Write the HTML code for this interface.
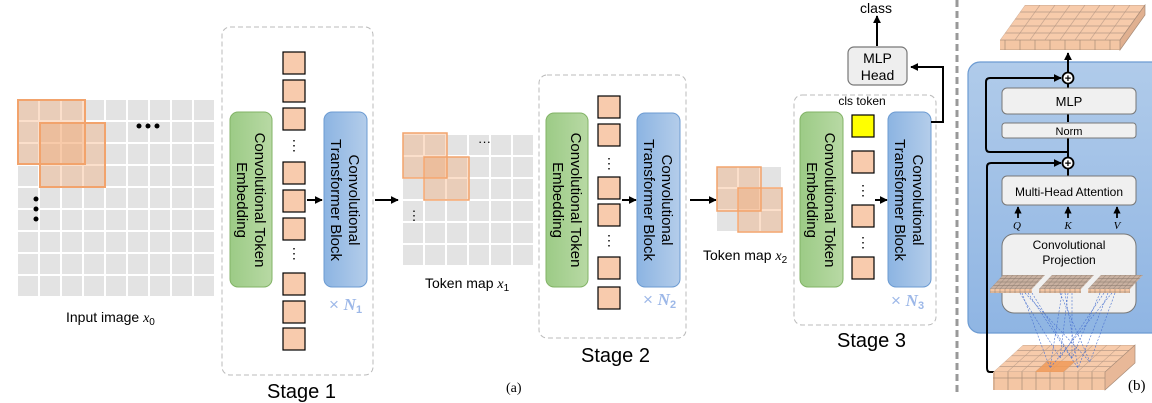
<!DOCTYPE html>
<html><head><meta charset="utf-8"><style>
html,body{margin:0;padding:0;background:#fff;}
svg{display:block;font-family:"Liberation Sans",sans-serif;}
</style></head><body>
<svg width="1152" height="403" viewBox="0 0 1152 403" xmlns="http://www.w3.org/2000/svg">
<defs>
<pattern id="g22" x="18" y="100" width="22" height="22" patternUnits="userSpaceOnUse"><rect width="20" height="20" fill="#e3e3e3"/></pattern>
<pattern id="g22b" x="403" y="135" width="22" height="22" patternUnits="userSpaceOnUse"><rect width="20" height="20" fill="#e3e3e3"/></pattern>
<pattern id="g22c" x="717" y="167" width="22" height="22" patternUnits="userSpaceOnUse"><rect width="20" height="20" fill="#e3e3e3"/></pattern>
<linearGradient id="gr" x1="0" x2="1"><stop offset="0" stop-color="#9ccb86"/><stop offset="1" stop-color="#b8d9a4"/></linearGradient>
<linearGradient id="bl" x1="0" x2="1"><stop offset="0" stop-color="#8cb4e2"/><stop offset="1" stop-color="#b4cdea"/></linearGradient>
<linearGradient id="pan" x1="0" y1="0" x2="0" y2="1"><stop offset="0" stop-color="#b0cbea"/><stop offset="1" stop-color="#8fb5e3"/></linearGradient>
<pattern id="tt" width="15" height="7" patternUnits="userSpaceOnUse"><rect width="15" height="7" fill="#f7cbab" stroke="#b89a86" stroke-width="0.7"/></pattern>
<pattern id="tt2" width="14" height="5.4" patternUnits="userSpaceOnUse"><rect width="14" height="5.4" fill="#f7cbab" stroke="#b89a86" stroke-width="0.7"/></pattern>
<pattern id="tf" width="15" height="10" patternUnits="userSpaceOnUse"><rect width="15" height="10" fill="#f4c6a4" stroke="#a88c78" stroke-width="0.7"/></pattern>
<pattern id="tf2" width="14" height="18" patternUnits="userSpaceOnUse"><rect width="14" height="18" fill="#f4c6a4" stroke="#a88c78" stroke-width="0.7"/></pattern>
<pattern id="st" width="5" height="3.5" patternUnits="userSpaceOnUse"><rect width="5" height="3.5" fill="#c8b0a0" stroke="#8c7c70" stroke-width="0.5"/></pattern>
<pattern id="sf" width="5" height="4" patternUnits="userSpaceOnUse"><rect width="5" height="4" fill="#f4c6a4" stroke="#8c7c70" stroke-width="0.5"/></pattern>
<marker id="ar" viewBox="0 0 10 10" refX="9" refY="5" markerWidth="4" markerHeight="4" orient="auto"><path d="M0,0L10,5L0,10z" fill="#000"/></marker>
</defs>

<!-- Input image -->
<rect x="18" y="100" width="198" height="198" fill="url(#g22)"/>
<rect x="18" y="100" width="67" height="64" fill="#f4a46b" fill-opacity="0.35" stroke="#f2a36c" stroke-width="2"/>
<rect x="40" y="123" width="65" height="64" fill="#f4a46b" fill-opacity="0.35" stroke="#f2a36c" stroke-width="2"/>
<circle cx="139" cy="126" r="2.5"/><circle cx="148" cy="126" r="2.5"/><circle cx="157" cy="126" r="2.5"/>
<circle cx="36" cy="199" r="2.5"/><circle cx="36" cy="209" r="2.5"/><circle cx="36" cy="219" r="2.5"/>
<text x="66" y="322" font-size="14">Input image <tspan font-family="Liberation Serif" font-style="italic">x</tspan><tspan font-size="10" dy="3">0</tspan></text>

<!-- Stage 1 -->
<rect x="222" y="27" width="151" height="348" rx="8" fill="none" stroke="#bbb" stroke-dasharray="5,3"/>
<text x="267" y="398" font-size="20">Stage 1</text>
<rect x="230" y="112" width="42" height="175" rx="8" fill="url(#gr)" stroke="#82b366"/>
<text transform="translate(251,200) rotate(90)" font-size="15" text-anchor="middle"><tspan x="0" y="-4">Convolutional Token</tspan><tspan x="0" y="14">Embedding</tspan></text>
<rect x="324" y="112" width="43" height="175" rx="8" fill="url(#bl)" stroke="#6c9bd2"/>
<text transform="translate(345,200) rotate(90)" font-size="15" text-anchor="middle"><tspan x="0" y="-4">Convolutional</tspan><tspan x="0" y="14">Transformer Block</tspan></text>
<g fill="#f8cbad" stroke="#000" stroke-width="1.2">
<rect x="283" y="52" width="22" height="22"/><rect x="283" y="80" width="22" height="22"/><rect x="283" y="108" width="22" height="22"/>
<rect x="283" y="162" width="22" height="22"/><rect x="283" y="190" width="22" height="22"/><rect x="283" y="218" width="22" height="22"/>
<rect x="283" y="273" width="22" height="22"/><rect x="283" y="301" width="22" height="22"/><rect x="283" y="328" width="22" height="22"/>
</g>
<text x="294" y="150" font-size="14" text-anchor="middle">⋮</text>
<text x="294" y="258" font-size="14" text-anchor="middle">⋮</text>
<line x1="307" y1="200" x2="322" y2="200" stroke="#000" stroke-width="2" marker-end="url(#ar)"/>
<text x="329" y="310" font-size="17" fill="#9db8e8">× <tspan font-family="Liberation Serif" font-style="italic" font-weight="bold">N</tspan><tspan font-size="11" dy="3" font-weight="bold">1</tspan></text>
<line x1="375" y1="200" x2="398" y2="200" stroke="#000" stroke-width="2" marker-end="url(#ar)"/>

<!-- Token map x1 -->
<rect x="403" y="135" width="132" height="132" fill="url(#g22b)"/>
<rect x="403" y="133" width="44" height="45" fill="#f4a46b" fill-opacity="0.35" stroke="#f2a36c" stroke-width="1.5"/>
<rect x="424" y="157" width="45" height="43" fill="#f4a46b" fill-opacity="0.35" stroke="#f2a36c" stroke-width="1.5"/>
<text x="478" y="146" font-size="13">···</text>
<text x="414" y="220" font-size="13" text-anchor="middle">⋮</text>
<text x="425" y="288" font-size="14">Token map <tspan font-family="Liberation Serif" font-style="italic">x</tspan><tspan font-size="10" dy="3">1</tspan></text>

<!-- Stage 2 -->
<rect x="539" y="75" width="147" height="263" rx="8" fill="none" stroke="#bbb" stroke-dasharray="5,3"/>
<text x="581" y="362" font-size="20">Stage 2</text>
<rect x="546" y="113" width="42" height="174" rx="8" fill="url(#gr)" stroke="#82b366"/>
<text transform="translate(567,200) rotate(90)" font-size="15" text-anchor="middle"><tspan x="0" y="-4">Convolutional Token</tspan><tspan x="0" y="14">Embedding</tspan></text>
<rect x="637" y="113" width="43" height="174" rx="8" fill="url(#bl)" stroke="#6c9bd2"/>
<text transform="translate(658,200) rotate(90)" font-size="15" text-anchor="middle"><tspan x="0" y="-4">Convolutional</tspan><tspan x="0" y="14">Transformer Block</tspan></text>
<g fill="#f8cbad" stroke="#000" stroke-width="1.2">
<rect x="598" y="96" width="22" height="22"/><rect x="598" y="124" width="22" height="22"/>
<rect x="598" y="177" width="22" height="22"/><rect x="598" y="204" width="22" height="22"/>
<rect x="598" y="257" width="22" height="22"/><rect x="598" y="287" width="22" height="22"/>
</g>
<text x="609" y="168" font-size="14" text-anchor="middle">⋮</text>
<text x="609" y="245" font-size="14" text-anchor="middle">⋮</text>
<line x1="622" y1="200" x2="636" y2="200" stroke="#000" stroke-width="2" marker-end="url(#ar)"/>
<text x="643" y="305" font-size="17" fill="#9db8e8">× <tspan font-family="Liberation Serif" font-style="italic" font-weight="bold">N</tspan><tspan font-size="11" dy="3" font-weight="bold">2</tspan></text>
<line x1="690" y1="200" x2="716" y2="200" stroke="#000" stroke-width="2" marker-end="url(#ar)"/>
<text x="506" y="392" font-size="14" font-family="Liberation Serif">(a)</text>

<!-- Token map x2 -->
<rect x="717" y="167" width="66" height="66" fill="url(#g22c)"/>
<rect x="717" y="167" width="44" height="44" fill="#f4a46b" fill-opacity="0.35" stroke="#f2a36c" stroke-width="1.5"/>
<rect x="738" y="188" width="44" height="44" fill="#f4a46b" fill-opacity="0.35" stroke="#f2a36c" stroke-width="1.5"/>
<text x="703" y="260" font-size="14">Token map <tspan font-family="Liberation Serif" font-style="italic">x</tspan><tspan font-size="10" dy="3">2</tspan></text>

<!-- Stage 3 -->
<rect x="794" y="95" width="142" height="230" rx="8" fill="none" stroke="#bbb" stroke-dasharray="5,3"/>
<text x="837" y="347" font-size="20">Stage 3</text>
<text x="862" y="105" font-size="12" text-anchor="middle">cls token</text>
<rect x="800" y="112" width="43" height="175" rx="8" fill="url(#gr)" stroke="#82b366"/>
<text transform="translate(821,200) rotate(90)" font-size="15" text-anchor="middle"><tspan x="0" y="-4">Convolutional Token</tspan><tspan x="0" y="14">Embedding</tspan></text>
<rect x="888" y="112" width="43" height="175" rx="8" fill="url(#bl)" stroke="#6c9bd2"/>
<text transform="translate(909,200) rotate(90)" font-size="15" text-anchor="middle"><tspan x="0" y="-4">Convolutional</tspan><tspan x="0" y="14">Transformer Block</tspan></text>
<rect x="852" y="115" width="22" height="22" fill="#ffff00" stroke="#000" stroke-width="1.2"/>
<g fill="#f8cbad" stroke="#000" stroke-width="1.2">
<rect x="852" y="151" width="22" height="22"/><rect x="852" y="205" width="22" height="22"/><rect x="852" y="257" width="22" height="22"/>
</g>
<text x="863" y="195" font-size="14" text-anchor="middle">⋮</text>
<text x="863" y="247" font-size="14" text-anchor="middle">⋮</text>
<line x1="875" y1="200" x2="887" y2="200" stroke="#000" stroke-width="2" marker-end="url(#ar)"/>
<text x="891" y="306" font-size="17" fill="#9db8e8">× <tspan font-family="Liberation Serif" font-style="italic" font-weight="bold">N</tspan><tspan font-size="11" dy="3" font-weight="bold">3</tspan></text>
<!-- MLP head -->
<rect x="848" y="47" width="59" height="38" rx="6" fill="#eee" stroke="#777" stroke-width="1.2"/>
<text x="877.5" y="63" font-size="14" text-anchor="middle">MLP</text>
<text x="877.5" y="80" font-size="14" text-anchor="middle">Head</text>
<line x1="877" y1="46" x2="877" y2="16" stroke="#000" stroke-width="2" marker-end="url(#ar)"/>
<text x="876" y="13" font-size="14" text-anchor="middle">class</text>
<polyline points="931,122 943,122 943,67 911,67" fill="none" stroke="#000" stroke-width="2" marker-end="url(#ar)"/>

<!-- separator -->
<line x1="957" y1="0" x2="957" y2="392" stroke="#999" stroke-width="3" stroke-dasharray="7,4"/>

<!-- (b) panel -->
<rect x="968" y="62" width="200" height="271" rx="12" fill="url(#pan)" stroke="#6c9bd2" stroke-width="1.2"/>
<!-- top tensor -->
<g transform="matrix(1,0,-0.714,1,1025,5)"><rect x="0" y="0" width="120" height="35" fill="url(#tt)"/></g>
<rect x="1000" y="40" width="120" height="10" fill="url(#tf)"/>
<polygon points="1120,40 1145,5 1145,15 1120,50" fill="#e0b090" stroke="#a88c78" stroke-width="0.7"/>
<line x1="1068" y1="73" x2="1068" y2="53" stroke="#000" stroke-width="2" marker-end="url(#ar)"/>
<!-- skip connections -->
<path d="M1068,152 L990,152 Q986,152 986,148 L986,82 Q986,78 990,78 L1061,78" fill="none" stroke="#000" stroke-width="2" marker-end="url(#ar)"/>
<path d="M1005,372 L990,372 Q987,372 987,368 L987,167 Q987,163 991,163 L1061,163" fill="none" stroke="#000" stroke-width="2" marker-end="url(#ar)"/>
<line x1="1068" y1="84" x2="1068" y2="88" stroke="#000" stroke-width="2"/>
<line x1="1068" y1="114" x2="1068" y2="122" stroke="#000" stroke-width="2"/>
<line x1="1068" y1="138" x2="1068" y2="158" stroke="#000" stroke-width="2"/>
<line x1="1068" y1="168" x2="1068" y2="176" stroke="#000" stroke-width="2"/>
<circle cx="1068" cy="78" r="5.5" fill="#fff" stroke="#000" stroke-width="1.8"/>
<text x="1068" y="82" font-size="11" font-weight="bold" text-anchor="middle">+</text>
<circle cx="1068" cy="163" r="5.5" fill="#fff" stroke="#000" stroke-width="1.8"/>
<text x="1068" y="167" font-size="11" font-weight="bold" text-anchor="middle">+</text>
<rect x="1002" y="88" width="134" height="26" rx="5" fill="#f0f0f0" stroke="#777"/>
<text x="1069" y="106" font-size="13" text-anchor="middle">MLP</text>
<rect x="1002" y="123" width="134" height="15" rx="3" fill="#f0f0f0" stroke="#777"/>
<text x="1069" y="135" font-size="11" text-anchor="middle">Norm</text>
<rect x="1002" y="176" width="134" height="29" rx="5" fill="#f0f0f0" stroke="#777"/>
<text x="1069" y="196" font-size="12" text-anchor="middle">Multi-Head Attention</text>
<g stroke="#000" stroke-width="1.8">
<line x1="1018" y1="218" x2="1018" y2="207" marker-end="url(#ar)"/>
<line x1="1068" y1="218" x2="1068" y2="207" marker-end="url(#ar)"/>
<line x1="1117" y1="218" x2="1117" y2="207" marker-end="url(#ar)"/>
</g>
<g font-family="Liberation Serif" font-style="italic" font-size="11" text-anchor="middle">
<text x="1017" y="229">Q</text><text x="1068" y="229">K</text><text x="1117" y="229">V</text></g>
<rect x="1002" y="234" width="134" height="79" rx="12" fill="#f0f0f0" stroke="#777"/>
<text x="1069" y="249" font-size="12" text-anchor="middle">Convolutional</text>
<text x="1069" y="264" font-size="12" text-anchor="middle">Projection</text>
<!-- small tensors -->
<g transform="matrix(1,0,-0.93,1,1003,275)"><rect width="42" height="14" fill="url(#st)"/></g><rect x="990" y="289" width="42" height="4" fill="url(#sf)"/>
<g transform="matrix(1,0,-0.93,1,1052,275)"><rect width="42" height="14" fill="url(#st)"/></g><rect x="1039" y="289" width="42" height="4" fill="url(#sf)"/>
<g transform="matrix(1,0,-0.93,1,1101,275)"><rect width="42" height="14" fill="url(#st)"/></g><rect x="1088" y="289" width="42" height="4" fill="url(#sf)"/>
<!-- bottom tensor -->
<g transform="matrix(1,0,-1.1,1,1023,345)"><rect x="0" y="0" width="112" height="27" fill="url(#tt2)"/><rect x="42" y="16" width="28" height="11" fill="#f09a58" opacity="0.85"/></g>
<rect x="993" y="372" width="112" height="18" fill="url(#tf2)"/>
<polygon points="1105,372 1135,345 1135,363 1105,390" fill="#e8b898" stroke="#a88c78" stroke-width="0.7"/>
<g stroke="#4a72d0" stroke-width="0.6" stroke-dasharray="2,1.5" fill="none">
<path d="M1022,293 L1050,368 M1028,293 L1078,368 M1032,293 L1072,358 M1020,293 L1060,358 M1025,293 L1090,362"/>
<path d="M1062,293 L1050,368 M1065,293 L1078,368 M1068,293 L1060,358 M1072,293 L1072,358 M1060,293 L1090,362"/>
<path d="M1112,293 L1050,368 M1108,293 L1078,368 M1104,293 L1060,358 M1100,293 L1072,358 M1115,293 L1090,362"/>
</g>
<text x="1128" y="390" font-size="15" font-family="Liberation Serif">(b)</text>
</svg>
</body></html>
